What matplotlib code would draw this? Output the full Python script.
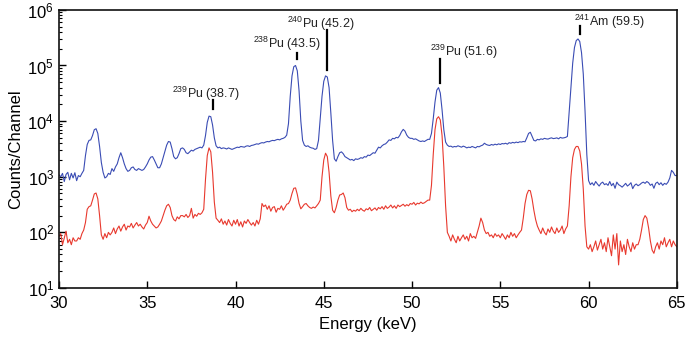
import matplotlib
matplotlib.use('Agg')
import matplotlib.pyplot as plt
import numpy as np

plt.rcParams['font.family'] = ['Liberation Sans', 'DejaVu Sans']
plt.rcParams['mathtext.fontset'] = 'custom'
plt.rcParams['mathtext.rm'] = 'Liberation Sans'
plt.rcParams['mathtext.it'] = 'Liberation Sans:italic'
plt.rcParams['mathtext.bf'] = 'Liberation Sans:bold'

# energy grid, 0.1 keV per channel
energy = np.linspace(30, 65, 351)

# upper spectrum (blue), counts per channel, one row per keV
counts_blue = [
    1080, 1000, 1150, 820, 1100, 1200, 880, 1150, 950, 1180,
    850, 1050, 1000, 1150, 1300, 2400, 3800, 4500, 4600, 5500,
    7000, 7300, 6000, 3500, 1800, 1200, 950, 1000, 1150, 1100,
    1400, 1250, 1500, 1700, 2200, 2700, 2200, 1700, 1400, 1250,
    1300, 1450, 1500, 1350, 1300, 1400, 1350, 1300, 1350, 1500,
    1700, 2000, 2250, 2300, 2000, 1700, 1450, 1450, 1700, 2200,
    2800, 3700, 4300, 4200, 3200, 2300, 2100, 2200, 2600, 3200,
    3300, 3100, 2700, 2600, 2800, 3000, 2900, 3100, 3200, 3300,
    3400, 3300, 3700, 5500, 9500, 12300, 12000, 8500, 5000, 3600,
    3300, 3400, 3200, 3300, 3250, 3150, 3300, 3200, 3100, 3200,
    3300, 3400, 3350, 3500, 3450, 3400, 3550, 3600, 3500, 3650,
    3700, 3800, 3900, 3850, 4000, 4100, 4050, 4200, 4300, 4250,
    4400, 4500, 4450, 4600, 4700, 4600, 4800, 4900, 5100, 5600,
    9000, 28000, 65000, 95000, 100000, 80000, 35000, 10000, 4500, 3700,
    3500, 3600, 3400, 3300, 3250, 3100, 3200, 4500, 11000, 28000,
    52000, 65000, 62000, 40000, 14000, 4500, 2100, 1900, 2300, 2700,
    2800, 2600, 2300, 2200, 2100, 2000, 2050, 1950, 2100, 2050,
    2100, 2200, 2150, 2300, 2250, 2450, 2400, 2550, 2700, 2650,
    3000, 3400, 3300, 3600, 3800, 3900, 4200, 4600, 4500, 4900,
    4800, 5100, 5000, 5500, 6400, 7100, 6600, 5600, 5100, 4900,
    4900, 4700, 4800, 4600, 4400, 4300, 4400, 4300, 4500, 4700,
    4700, 6000, 11000, 22000, 36000, 40000, 32000, 16000, 7000, 4200,
    3700, 3500, 3550, 3400, 3500, 3450, 3600, 3500, 3400, 3550,
    3450, 3300, 3400, 3350, 3500, 3400, 3300, 3500, 3450, 3600,
    3700, 4000, 3800, 3700, 3650, 3800, 3700, 3850, 3750, 3900,
    3800, 3950, 3900, 4000, 3850, 4100, 4000, 4150, 4050, 4200,
    4100, 4250, 4200, 4300, 4250, 5000, 6000, 6300, 5300, 4500,
    4400, 4700, 4600, 4800, 4700, 4900, 4800, 4750, 4900, 5000,
    4850, 4900, 5000, 4800, 5100, 4950, 5000, 5100, 5300, 15000,
    40000, 110000, 210000, 280000, 300000, 270000, 170000, 70000, 15000, 2500,
    850, 720, 780, 700, 820, 740, 680, 760, 800, 720,
    750, 700, 820, 690, 760, 620, 800, 720, 690, 650,
    700, 760, 680, 720, 780, 610, 700, 740, 690, 720,
    770, 800, 760, 820, 780, 700, 740, 620, 760, 800,
    720, 780, 700, 760, 730, 800, 950, 1300, 1200, 1050,
    1050,
]

# lower spectrum (red)
counts_red = [
    85, 95, 60, 80, 105, 65, 75, 60, 80, 70,
    70, 80, 75, 95, 110, 150, 260, 290, 300, 380,
    490, 510, 400, 200, 90, 75, 95, 80, 100, 90,
    100, 120, 95, 115, 130, 105, 125, 140, 110, 130,
    125, 145, 120, 135, 150, 130, 140, 125, 115, 135,
    150, 195, 160, 140, 130, 120, 125, 140, 160, 200,
    250, 300, 320, 280, 200, 170, 160, 190, 175, 200,
    200, 190, 210, 185, 200, 270, 180, 210, 195, 220,
    210, 225, 260, 900, 2400, 3300, 2800, 1200, 350, 180,
    165, 150, 175, 140, 160, 135, 170, 145, 130, 165,
    140, 170, 130, 155, 125, 160, 145, 170, 150, 135,
    150, 130, 165, 140, 175, 330, 290, 310, 260, 300,
    240, 280, 290, 230, 270, 260, 300, 250, 280, 320,
    330, 380, 500, 620, 630, 480, 330, 265, 290, 320,
    330, 300, 280, 270, 285, 275, 300, 330, 380, 1000,
    2000, 2650, 2300, 1200, 450, 250, 225, 280, 380, 470,
    480, 510, 420, 280, 250, 260, 235, 250, 240, 260,
    245, 270, 250, 240, 265, 255, 280, 245, 260, 275,
    250, 280, 265, 290, 260, 300, 270, 285, 310, 275,
    300, 270, 310, 290, 305, 320, 295, 315, 300, 330,
    320, 345, 310, 335, 325, 350, 330, 340, 360, 380,
    380, 700, 2500, 7000, 11000, 12000, 10500, 5500, 1500, 300,
    100, 85, 70, 90, 75, 65, 85, 70, 80, 90,
    75, 85, 70, 95, 80, 85, 78, 100, 130, 180,
    150, 110, 95, 100, 85, 90, 80, 95, 85, 90,
    80, 95, 85, 75, 90, 80, 100, 85, 95, 80,
    90, 100, 110, 180, 330, 480, 570, 560, 400, 250,
    170, 130, 110, 95, 120, 100, 90, 115, 100, 125,
    105, 95, 120, 100, 110, 130, 95, 115, 130, 300,
    1000, 2200, 3100, 3500, 3500, 2900, 1700, 600, 130, 55,
    50, 60, 45, 55, 70, 48, 60, 75, 50, 65,
    45, 80, 55, 38, 90, 50, 95, 26, 70, 45,
    60, 40, 75, 55, 45, 65, 50, 60, 60, 75,
    110, 170, 200, 180, 120, 70, 48, 42, 55, 65,
    50, 70, 60, 80, 55, 65, 75, 55, 70, 60,
    55,
]

# labelled lines
peak_energy = [38.7, 43.5, 45.2, 51.6, 59.5]
peak_label = ['$^{239}$Pu (38.7)', '$^{238}$Pu (43.5)', '$^{240}$Pu (45.2)',
              '$^{239}$Pu (51.6)', '$^{241}$Am (59.5)']

# marker bar ends (log10 counts) and label anchors (left x, log10 y)
bar_lo = [4.22, 5.11, 4.92, 4.68, 5.56]
bar_hi = [4.38, 5.23, 5.64, 5.11, 5.71]
text_x = [36.4, 41.0, 42.9, 51.0, 59.15]
text_y = [4.49, 5.38, 5.75, 5.24, 5.79]

fig = plt.figure(figsize=(6.85, 3.4), dpi=100)
ax = fig.add_axes([0.0861, 0.153, 0.902, 0.818])

ax.plot(energy, counts_blue, color='#3a4cb4', linewidth=0.8)
ax.plot(energy, counts_red, color='#e8392e', linewidth=0.8)

for e, lab, lo, hi, tx, ty in zip(peak_energy, peak_label, bar_lo, bar_hi, text_x, text_y):
    ax.plot([e, e], [10 ** lo, 10 ** hi], color='black', linewidth=1.6)
    ax.text(tx, 10 ** ty, lab, ha='left', va='center', fontsize=9, color='#222222')

ax.set_yscale('log')
ax.set_xlim(30, 65)
ax.set_ylim(10, 1e6)
ax.set_xticks([30, 35, 40, 45, 50, 55, 60, 65])

ax.set_xlabel('Energy (keV)', fontsize=12, labelpad=4)
ax.set_ylabel('Counts/Channel', fontsize=12, labelpad=3)

ax.tick_params(axis='both', which='major', direction='in', length=5, width=1, labelsize=12)
ax.tick_params(axis='y', which='minor', direction='in', length=2.5, width=0.8)
ax.tick_params(axis='x', which='major', pad=6)

for sp in ax.spines.values():
    sp.set_linewidth(1.2)
    sp.set_color('#111111')

fig.savefig('out.png', dpi=100)
